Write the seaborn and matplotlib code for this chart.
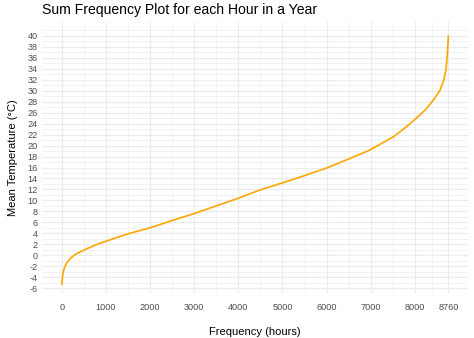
import matplotlib
matplotlib.use("Agg")
import matplotlib.pyplot as plt
import seaborn as sns
import pandas as pd
from matplotlib.ticker import FixedLocator

hours = [0, 5, 15, 30, 60, 106, 200, 300, 408, 600, 800, 1013, 1500, 2000, 2449,
         3000, 3500, 4000, 4490, 5000, 5472, 6000, 6304, 6984, 7513, 7816, 8118,
         8270, 8420, 8571, 8650, 8707, 8737, 8752, 8760]
temps = [-5.3, -4.5, -3.7, -3.0, -2.2, -1.4, -0.5, 0.1, 0.6, 1.3, 2.0, 2.6, 3.9, 5.0, 6.2,
         7.6, 9.0, 10.4, 11.9, 13.2, 14.45, 15.9, 16.9, 19.2, 21.6, 23.45, 25.6,
         26.8, 28.3, 30.1, 31.8, 33.8, 36.5, 38.5, 40.0]

x_ticks = [0, 1000, 2000, 3000, 4000, 5000, 6000, 7000, 8000, 8760]
y_ticks = list(range(-6, 41, 2))

title = "Sum Frequency Plot for each Hour in a Year"
xlabel = "Frequency (hours)"
ylabel = "Mean Temperature (°C)"

sns.set_theme(style="white")
plt.rcParams['font.family'] = ['Liberation Sans', 'DejaVu Sans']

df = pd.DataFrame({"hours": hours, "temp": temps})

fig = plt.figure(figsize=(4.74, 3.38), dpi=100)
ax = fig.add_axes([42/474, 1-293/338, (468-42)/474, (293-22)/338])

sns.lineplot(data=df, x="hours", y="temp", color="#FFA500", linewidth=1.2, ax=ax, zorder=3)

ax.set_xlim(-453, 9206)
ax.set_ylim(-6.9, 42.55)

ax.xaxis.set_major_locator(FixedLocator(x_ticks))
ax.set_xticklabels([str(t) for t in x_ticks])
ax.yaxis.set_major_locator(FixedLocator(y_ticks))
ax.set_yticklabels([str(t) for t in y_ticks])

xminor = [(a + b) / 2 for a, b in zip(x_ticks[:-1], x_ticks[1:])]
ax.xaxis.set_minor_locator(FixedLocator(xminor))
ax.yaxis.set_minor_locator(FixedLocator(list(range(-7, 42, 2))))

ax.grid(which="major", color="#EBEBEB", linewidth=0.8)
ax.grid(which="minor", color="#EBEBEB", linewidth=0.45)
ax.set_axisbelow(True)
for s in ax.spines.values():
    s.set_visible(False)

ax.tick_params(axis="both", which="both", length=0, labelsize=6.6, labelcolor="#4D4D4D")
ax.tick_params(axis="x", pad=7)
ax.tick_params(axis="y", pad=3)

ax.set_xlabel(xlabel, fontsize=8.0, color="black", labelpad=11)
ax.set_ylabel(ylabel, fontsize=8.0, color="black", labelpad=7)

fig.text(42/474, 1-10/338, title, fontsize=10.1, color="black", ha="left", va="center")

fig.savefig("out.png", dpi=100)
